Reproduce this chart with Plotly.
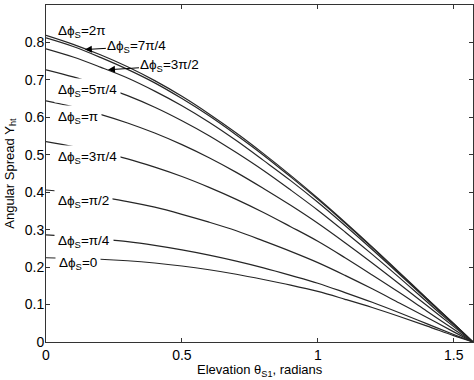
import plotly.graph_objects as go

# Elevation grid (radians)
theta = [0, 0.1, 0.2, 0.3, 0.4, 0.5, 0.6, 0.7, 0.8, 0.9, 1.0, 1.1, 1.2, 1.3, 1.4, 1.5, 1.5708]

# Angular spread curves, one per azimuthal width
spread_2pi  = [0.819, 0.795, 0.767, 0.735, 0.698, 0.656, 0.609, 0.558, 0.503, 0.445, 0.384, 0.320, 0.254, 0.186, 0.117, 0.049, 0]
spread_7pi4 = [0.812, 0.789, 0.760, 0.728, 0.692, 0.650, 0.604, 0.553, 0.499, 0.441, 0.381, 0.318, 0.252, 0.184, 0.116, 0.049, 0]
spread_3pi2 = [0.783, 0.761, 0.734, 0.705, 0.670, 0.631, 0.587, 0.538, 0.485, 0.431, 0.373, 0.311, 0.247, 0.181, 0.114, 0.048, 0]
spread_5pi4 = [0.727, 0.708, 0.684, 0.658, 0.627, 0.591, 0.551, 0.506, 0.458, 0.406, 0.352, 0.294, 0.234, 0.172, 0.108, 0.045, 0]
spread_pi   = [0.644, 0.628, 0.608, 0.585, 0.558, 0.527, 0.492, 0.453, 0.410, 0.365, 0.317, 0.265, 0.211, 0.155, 0.098, 0.041, 0]
spread_3pi4 = [0.535, 0.522, 0.507, 0.489, 0.467, 0.442, 0.413, 0.381, 0.346, 0.308, 0.269, 0.225, 0.179, 0.132, 0.083, 0.034, 0]
spread_pi2  = [0.406, 0.398, 0.387, 0.375, 0.360, 0.341, 0.320, 0.297, 0.270, 0.242, 0.212, 0.178, 0.142, 0.104, 0.066, 0.027, 0]
spread_pi4  = [0.286, 0.281, 0.275, 0.268, 0.258, 0.246, 0.232, 0.216, 0.198, 0.178, 0.157, 0.132, 0.106, 0.078, 0.049, 0.020, 0]
spread_0    = [0.225, 0.223, 0.221, 0.217, 0.211, 0.203, 0.193, 0.181, 0.167, 0.152, 0.135, 0.114, 0.092, 0.068, 0.043, 0.017, 0]

series = [spread_2pi, spread_7pi4, spread_3pi2, spread_5pi4, spread_pi,
          spread_3pi4, spread_pi2, spread_pi4, spread_0]

x_tickvals = [0, 0.5, 1, 1.5]
x_ticktext = ["0", "0.5", "1", "1.5"]
y_tickvals = [0, 0.1, 0.2, 0.3, 0.4, 0.5, 0.6, 0.7, 0.8, 0.9]
y_ticktext = ["0", "0.1", "0.2", "0.3", "0.4", "0.5", "0.6", "0.7", "0.8", "0.9"]

# label text and placement (data coords)
labels_plain = [
    ("Δϕ<sub>S</sub>=2π", 0.132, 0.829),
    ("Δϕ<sub>S</sub>=5π/4", 0.153, 0.671),
    ("Δϕ<sub>S</sub>=π", 0.119, 0.600),
    ("Δϕ<sub>S</sub>=3π/4", 0.153, 0.493),
    ("Δϕ<sub>S</sub>=π/2", 0.138, 0.376),
    ("Δϕ<sub>S</sub>=π/4", 0.138, 0.269),
    ("Δϕ<sub>S</sub>=0", 0.119, 0.210),
]
labels_arrow = [
    ("Δϕ<sub>S</sub>=7π/4", 0.143, 0.781, 52, -3),
    ("Δϕ<sub>S</sub>=3π/2", 0.228, 0.727, 62, -4),
]

FONT = "Liberation Sans, Arial, sans-serif"
LINE_COLOR = "#262626"

fig = go.Figure()
for s in series:
    fig.add_trace(go.Scatter(x=theta, y=s, mode="lines",
                             line=dict(color=LINE_COLOR, width=1.2, shape="spline", smoothing=1.0),
                             showlegend=False, hoverinfo="skip"))

annotations = []
for i, (txt, x, y) in enumerate(labels_plain):
    annotations.append(dict(x=x, y=y, xref="x", yref="y", text=txt, showarrow=False,
                            font=dict(family=FONT, size=13.5, color="black"),
                            bgcolor="rgba(0,0,0,0)" if i == 0 else "white", borderpad=3,
                            xanchor="center", yanchor="middle"))
for txt, x, y, ax, ay in labels_arrow:
    annotations.append(dict(x=x, y=y, xref="x", yref="y", text=txt, showarrow=True,
                            ax=ax, ay=ay, arrowhead=2, arrowsize=1.4, arrowwidth=1,
                            arrowcolor="black", standoff=0, startstandoff=0,
                            font=dict(family=FONT, size=13.5, color="black"),
                            xanchor="center", yanchor="middle"))

# axis titles as annotations for exact placement
annotations.append(dict(x=0.5, y=-0.084, xref="paper", yref="paper",
                        text="Elevation θ<sub>S1</sub>, radians", showarrow=False,
                        font=dict(family=FONT, size=13, color="black"),
                        xanchor="center", yanchor="middle"))
annotations.append(dict(x=-0.084, y=0.5, xref="paper", yref="paper",
                        text="Angular Spread Υ<sub>ht</sub>", showarrow=False, textangle=-90,
                        font=dict(family=FONT, size=13, color="black"),
                        xanchor="center", yanchor="middle"))

axis_common = dict(showgrid=False, zeroline=False, showline=True, linecolor="#333333",
                   linewidth=1, mirror="ticks", ticks="inside", ticklen=4, automargin=False,
                   tickcolor="#333333", tickfont=dict(family=FONT, size=14, color="black"))

fig.update_layout(
    width=474, height=380,
    margin=dict(l=46, r=1, t=5, b=38),
    paper_bgcolor="white", plot_bgcolor="white",
    xaxis=dict(range=[0, 1.5708], tickvals=x_tickvals, ticktext=x_ticktext, **axis_common),
    yaxis=dict(range=[0, 0.9], tickvals=y_tickvals, ticktext=y_ticktext,
               ticklabelstandoff=-2, **axis_common),
    annotations=annotations,
)

fig.write_html("out.html", config={"displayModeBar": False},
               post_script="document.body.style.margin='0';document.body.style.overflow='hidden';")
